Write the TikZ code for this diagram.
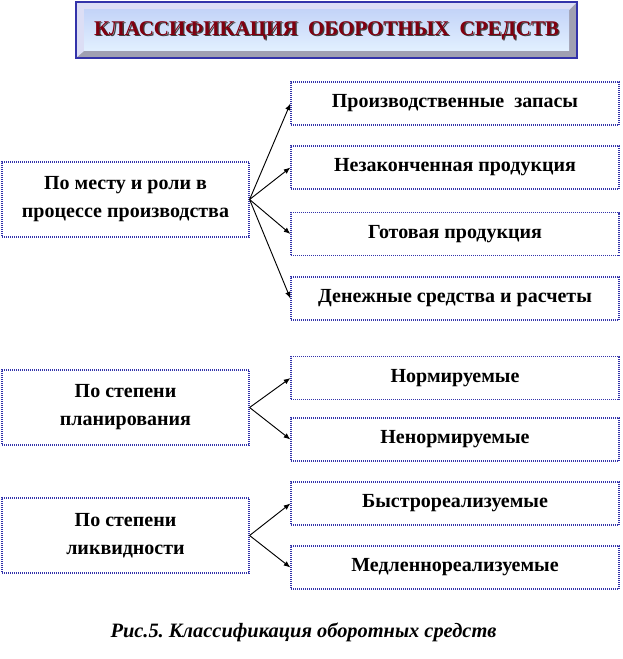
\documentclass[tikz,border=0pt]{standalone}
\usepackage{fontspec}
\setmainfont{Liberation Serif}
\usetikzlibrary{arrows.meta}
\frenchspacing
\definecolor{boxblue}{RGB}{51,51,170}
\definecolor{titlered}{RGB}{128,0,16}
\definecolor{bevellight}{RGB}{220,222,245}
\definecolor{beveldark}{RGB}{160,160,178}
\definecolor{facetop}{RGB}{196,212,248}
\definecolor{facebot}{RGB}{226,240,255}
\tikzset{
  kindbox/.style={draw=boxblue,line width=0.9pt,dash pattern=on 0.75pt off 0.75pt,
    rectangle,align=center,font=\fontsize{15}{21}\selectfont\bfseries},
  groupbox/.style={kindbox,minimum width=185.25pt,minimum height=56.25pt},
  itembox/.style={kindbox,minimum width=246pt,minimum height=32.25pt},
  link/.style={-{Latex[length=5pt,width=4pt]},line width=0.7pt,black}
}
\begin{document}
\begin{tikzpicture}[x=0.75pt,y=-0.75pt]
\useasboundingbox (0,0) rectangle (622,659);

% title plate
\fill[beveldark] (76,2) rectangle (577,58);
\fill[bevellight] (76,2) -- (577,2) -- (569,10) -- (84,10) -- (84,51) -- (76,58) -- cycle;
\draw[boxblue,line width=0.8pt] (76,2) rectangle (577,58);
\node[minimum width=363.75pt,minimum height=30.75pt,top color=facetop,bottom color=facebot,
  inner sep=0pt] (title) at (326.5,30.5) {};
\node[text=black!75,font=\fontsize{15.7}{19}\selectfont\bfseries] at ([xshift=1pt,yshift=-1pt]title.center)
  {КЛАССИФИКАЦИЯ\ \ ОБОРОТНЫХ\ \ СРЕДСТВ};
\node[text=titlered,font=\fontsize{15.7}{19}\selectfont\bfseries] (titletext) at (title.center)
  {КЛАССИФИКАЦИЯ\ \ ОБОРОТНЫХ\ \ СРЕДСТВ};

% groups
\node[groupbox] (place) at (125.5,199.5) {По месту и роли в\\процессе производства};
\node[groupbox] (plan) at (125.5,407.5) {По степени\\планирования};
\node[groupbox] (liquid) at (125.5,535.5) {По степени\\ликвидности};

% items
\node[itembox] (stock) at (455,103.5) {Производственные\ \ запасы};
\node[itembox] (wip) at (455,167.5) {Незаконченная продукция};
\node[itembox] (goods) at (455,234) {Готовая продукция};
\node[itembox] (cash) at (455,298.5) {Денежные средства и расчеты};
\node[itembox] (norm) at (455,378) {Нормируемые};
\node[itembox] (nonnorm) at (455,439.5) {Ненормируемые};
\node[itembox] (fast) at (455,503.5) {Быстрореализуемые};
\node[itembox] (slow) at (455,567.5) {Медленнореализуемые};

% arrows
\foreach \t in {stock,wip,goods,cash} \draw[link] (place.east) -- (\t.west);
\foreach \t in {norm,nonnorm} \draw[link] (plan.east) -- (\t.west);
\foreach \t in {fast,slow} \draw[link] (liquid.east) -- (\t.west);

\node[font=\fontsize{15.3}{18}\selectfont\bfseries\itshape] (caption) at (303.5,632)
  {Рис.5. Классификация оборотных средств};
\end{tikzpicture}
\end{document}
